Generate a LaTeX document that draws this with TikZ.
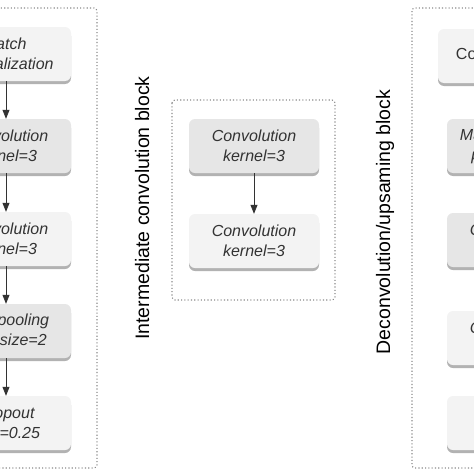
\documentclass[tikz,border=0pt]{standalone}
\usepackage{fontspec}
\setmainfont{Liberation Sans}
\usetikzlibrary{shadows,arrows.meta}

\definecolor{boxlight}{HTML}{F3F3F3}
\definecolor{boxdark}{HTML}{E6E6E6}
\definecolor{txtgray}{HTML}{333333}
\definecolor{framegray}{HTML}{8A8A8A}
\definecolor{arrowgray}{HTML}{333333}

\tikzset{
	layer/.style={rectangle, rounded corners=6pt, fill=boxlight,
		minimum width=130pt, minimum height=54pt, align=center, text=txtgray,
		font=\fontsize{16}{20}\selectfont\itshape,
		drop shadow={shadow xshift=0pt, shadow yshift=-3pt, fill=black, opacity=0.3}},
	layerdark/.style={layer, fill=boxdark},
	block/.style={draw=framegray, line width=1.1pt, dash pattern=on 1.1pt off 2.2pt, rounded corners=3pt},
	flow/.style={draw=arrowgray, line width=0.8pt, -{Triangle[length=9pt,width=7pt]}},
	blocklabel/.style={rotate=90, anchor=base, font=\fontsize{19.5}{22}\selectfont}
}

\begin{document}
\begin{tikzpicture}[x=1pt,y=-1pt]
	\useasboundingbox (0,0) rectangle (474,474);
	\clip (0,0) rectangle (474,474);

	% frames of the three blocks
	\draw[block] (-70,8) rectangle (97,468);
	\draw[block] (172,100) rectangle (335,300);
	\draw[block] (412,8) rectangle (580,468);

	% first block
	\node[layer] (bn) at (6,54) {Batch\\normalization};
	\node[layerdark] (conv1) at (6,146) {Convolution\\kernel=3};
	\node[layer] (conv2) at (6,239) {Convolution\\kernel=3};
	\node[layerdark] (pool) at (6,331) {Max pooling\\pool size=2};
	\node[layer] (drop) at (6,423) {Dropout\\rate=0.25};

	\draw[flow] (bn) -- (conv1);
	\draw[flow] (conv1) -- (conv2);
	\draw[flow] (conv2) -- (pool);
	\draw[flow] (pool) -- (drop);

	% intermediate block
	\node[blocklabel] (intlabel) at (149,208) {Intermediate convolution block};
	\node[layerdark] (midconv1) at (254,146) {Convolution\\kernel=3};
	\node[layer] (midconv2) at (254,241) {Convolution\\kernel=3};

	\draw[flow] (midconv1) -- (midconv2);

	% deconvolution block
	\node[blocklabel] (deconvlabel) at (390,222) {Deconvolution/upsaming block};
	\node[layer, minimum width=148pt, font=\fontsize{16}{20}\selectfont] (deconv) at (512,56) {Conv transpose};
	\node[layerdark] (unpool) at (512,146) {Max unpooling\\pool size=2};
	\node[layerdark] (upconv1) at (512,240) {Convolution\\kernel=3};
	\node[layer] (upconv2) at (512,338) {Convolution\\kernel=3};
	\node[layer] (updrop) at (512,423) {Dropout\\rate=0.25};
\end{tikzpicture}
\end{document}
